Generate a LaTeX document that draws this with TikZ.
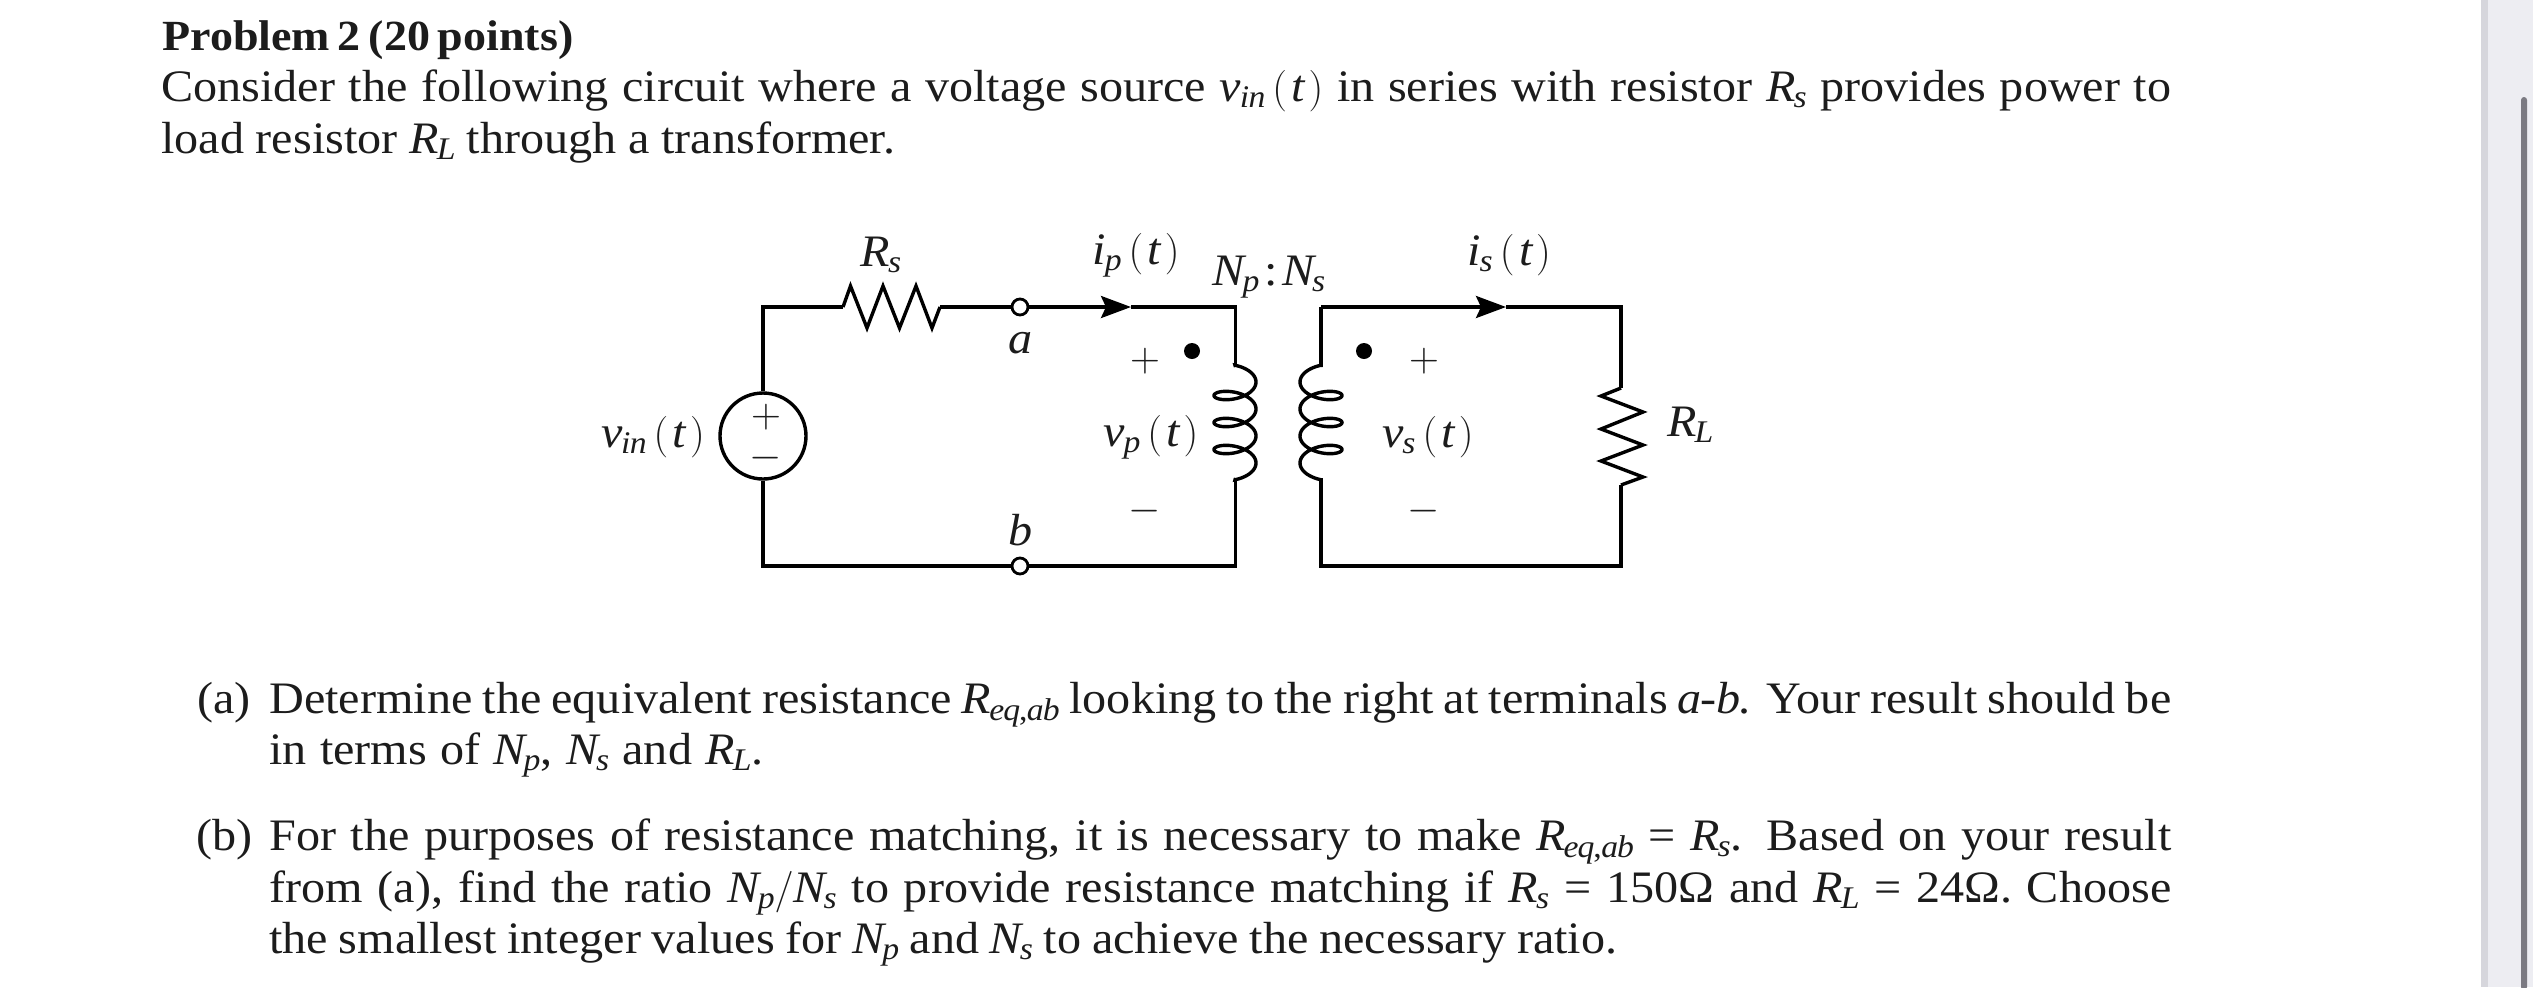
\documentclass[tikz,border=0pt]{standalone}
\usepackage{fontspec}
\setmainfont[FakeStretch=1.07]{Liberation Serif}
\DeclareSymbolFont{letters}{TU}{\rmdefault}{m}{it}
\DeclareMathSymbol{,}{\mathpunct}{operators}{`,}
\DeclareMathSymbol{/}{\mathord}{operators}{`/}
\usetikzlibrary{arrows.meta,shapes.geometric}
\definecolor{barbg}{HTML}{EDEDF2}
\definecolor{barshade}{HTML}{D6D6DC}
\definecolor{barthumb}{HTML}{7B7A82}
\definecolor{inktext}{HTML}{1C1C1C}
\tikzset{
  wire/.style={line width=1.7pt,line join=miter},
  textline/.style={anchor=base west,inner sep=0pt,text=inktext},
  lbl/.style={inner sep=0pt,text=inktext},
  terminal/.style={circle,draw,line width=1.4pt,fill=white,minimum size=8pt,inner sep=0pt},
  polarity/.style={circle,fill=black,minimum size=8pt,inner sep=0pt},
  midtip/.style={-{Stealth[length=15pt,width=11pt,inset=2.5pt]}}
}
\newcommand{\fitline}[2]{\hbox to \dimexpr #1pt/2\relax{#2}}
\newcommand{\oft}{\mkern3mu(\mkern2mu t\mkern2mu)}
\begin{document}
\begin{tikzpicture}[x=0.5pt,y=-0.5pt,font=\fontsize{22.5}{26}\selectfont]
    \useasboundingbox (0,0) rectangle (2533,987);

    % scrollbar
    \fill[barbg] (2481,0) rectangle (2533,987);
    \fill[barshade] (2481,0) rectangle (2488,987);
    \fill[barthumb,rounded corners=1.5pt] (2521,97) rectangle (2527,990);

    % problem text
    \node [textline] (title) at (162,50) {\fitline{411}{\fontsize{21.5}{26}\selectfont\bfseries Problem 2 (20 points)}};
    \node [textline] (intro1) at (161,101) {\fitline{2010}{Consider the following circuit where a voltage source $v_{in}\oft$ in series with resistor $R_s$ provides power to}};
    \node [textline] (intro2) at (161,153) {\fitline{734}{load resistor $R_L$ through a transformer.}};

    \node [textline] (parta) at (197,713) {(a)};
    \node [textline] (a1) at (269,713) {\fitline{1902}{Determine the equivalent resistance $R_{eq,ab}$ looking to the right at terminals $a$-$b$. Your result should be}};
    \node [textline] (a2) at (269,764) {\fitline{494}{in terms of $N_p$, $N_s$ and $R_L$.}};

    \node [textline] (partb) at (196,850) {(b)};
    \node [textline] (b1) at (269,850) {\fitline{1902}{For the purposes of resistance matching, it is necessary to make $R_{eq,ab}$ = $R_s$. Based on your result}};
    \node [textline] (b2) at (269,902) {\fitline{1902}{from (a), find the ratio $N_p/N_s$ to provide resistance matching if $R_s$ = 150Ω and $R_L$ = 24Ω. Choose}};
    \node [textline] (b3) at (269,953) {\fitline{1348}{the smallest integer values for $N_p$ and $N_s$ to achieve the necessary ratio.}};

    % circuit nodes
    \node [circle,draw,wire,minimum size=43pt,inner sep=0pt] (src) at (763,436) {};
    \node [lbl] (srcplus) at (766,417) {$+$};
    \node [lbl] (srcminus) at (766,458) {$-$};
    \node [terminal] (a) at (1020,307) {};
    \node [terminal] (b) at (1020,566) {};
    \node [polarity] (dotp) at (1192,351) {};
    \node [polarity] (dots) at (1364,351) {};

    \coordinate (tl) at (763,307);
    \coordinate (bl) at (763,566);
    \coordinate (rsin) at (843,307);
    \coordinate (rsout) at (940,307);
    \coordinate (tipp) at (1131,307);
    \coordinate (tr1) at (1235.5,307);
    \coordinate (coil1in) at (1235.5,367);
    \coordinate (coil1out) at (1235.5,478);
    \coordinate (br1) at (1235.5,566);
    \coordinate (tl2) at (1321,307);
    \coordinate (coil2in) at (1321,367);
    \coordinate (coil2out) at (1321,478);
    \coordinate (bl2) at (1321,566);
    \coordinate (tips) at (1506,307);
    \coordinate (tr2) at (1621,307);
    \coordinate (rlin) at (1621,388);
    \coordinate (rlout) at (1621,485);
    \coordinate (br2) at (1621,566);

    % left loop
    \draw[wire] (src.north) -- (tl) -- (rsin);
    \draw[wire] (rsin) -- ++(7.5,-21) -- ++(16.5,42) -- ++(16,-42) -- ++(16.5,42) -- ++(16.5,-42) -- ++(16,42) -- (rsout);
    \draw[wire] (rsout) -- (a);
    \draw[wire] (src.south) -- (bl) -- (b);
    \draw[wire,midtip] (a) -- (tipp);
    \draw[wire] (tipp) -- (tr1) -- (coil1in);
    \draw[wire] (b) -- (br1) -- (coil1out);

    % transformer coils
    \draw[wire] (coil1in) -- plot[domain=-1.5708:20.42,samples=181,variable=\t] ({1235+21*cos(\t r)},{382+4.297*\t+10*sin(\t r)}) -- (coil1out);
    \draw[wire] (coil2in) -- plot[domain=-1.5708:20.42,samples=181,variable=\t] ({1321-21*cos(\t r)},{382+4.297*\t+10*sin(\t r)}) -- (coil2out);

    % right loop
    \draw[wire] (coil2in) -- (tl2);
    \draw[wire,midtip] (tl2) -- (tips);
    \draw[wire] (tips) -- (tr2) -- (rlin);
    \draw[wire] (rlin) -- ++(-20,8) -- ++(42,16) -- ++(-42,17) -- ++(42,16) -- ++(-42,16) -- ++(42,16) -- (rlout);
    \draw[wire] (rlout) -- (br2) -- (bl2) -- (coil2out);

    % labels
    \node [lbl] (Rs) at (881,255) {$R_s$};
    \node [lbl] (vin) at (653,437) {$v_{in}\oft$};
    \node [lbl] (la) at (1020,343) {$a$};
    \node [lbl] (lb) at (1020,530) {$b$};
    \node [lbl] (ip) at (1136,255) {$i_p\oft$};
    \node [lbl] (is) at (1509,255) {$i_s\oft$};
    \node [lbl] (ratio) at (1269,277) {$N_p\mkern2mu$:$\mkern2mu N_s$};
    \node [lbl] (vp) at (1151,437) {$v_p\oft$};
    \node [lbl] (vs) at (1428,437) {$v_s\oft$};
    \node [lbl] (RL) at (1690,425) {$R_L$};
    \node [lbl] (pplus) at (1145,361) {$+$};
    \node [lbl] (pminus) at (1145,511) {$-$};
    \node [lbl] (splus) at (1424,361) {$+$};
    \node [lbl] (sminus) at (1424,511) {$-$};

\end{tikzpicture}
\end{document}
